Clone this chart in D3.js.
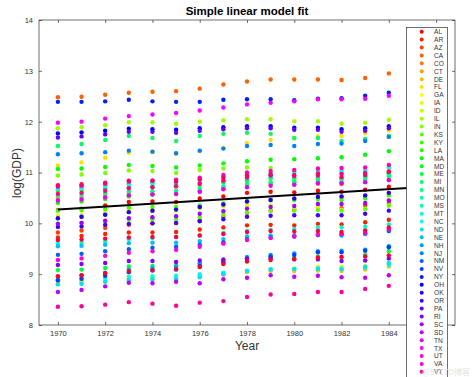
<!DOCTYPE html>
<html><head><meta charset="utf-8">
<script src="https://cdn.jsdelivr.net/npm/d3@7"></script>
<style>body{margin:0;background:#fff}svg{display:block}</style>
</head><body>
<svg id="c" width="474" height="377"></svg>
<script>
const years = [1970,1971,1972,1973,1974,1975,1976,1977,1978,1979,1980,1981,1982,1983,1984];
const xTicks = [1970,1972,1974,1976,1978,1980,1982,1984,1986];
const xTickLabels = ["1970","1972","1974","1976","1978","1980","1982","1984",""]; // 1986 sits under the legend
const yTicks = [8,9,10,11,12,13,14];
const states = ["AL","AR","AZ","CA","CO","CT","DE","FL","GA","IA","ID","IL","IN","KS","KY","LA","MA","MD","ME","MI","MN","MO","MS","MT","NC","ND","NE","NH","NJ","NM","NV","NY","OH","OK","OR","PA","RI","SC","SD","TN","TX","UT","VA","VT","WA","WI","WV","WY"];
const AL=[10.26,10.29,10.35,10.42,10.43,10.42,10.49,10.53,10.60,10.62,10.61,10.64,10.62,10.66,10.72];
const AR=[9.72,9.75,9.79,9.82,9.82,9.83,9.88,9.92,9.96,9.97,9.96,9.99,9.98,10.02,10.07];
const AZ=[9.82,9.86,9.91,9.97,10.00,10.00,10.06,10.13,10.21,10.25,10.27,10.31,10.30,10.35,10.40];
const CA=[12.48,12.49,12.53,12.57,12.59,12.60,12.65,12.73,12.79,12.83,12.83,12.83,12.82,12.86,12.95];
const CO=[10.10,10.13,10.18,10.23,10.25,10.27,10.32,10.37,10.43,10.46,10.48,10.52,10.52,10.54,10.58];
const CT=[10.50,10.51,10.54,10.58,10.58,10.57,10.62,10.68,10.74,10.77,10.77,10.78,10.77,10.81,10.88];
const DE=[8.85,8.86,8.88,8.91,8.92,8.91,8.95,8.99,9.04,9.06,9.06,9.07,9.06,9.09,9.15];
const FL=[11.14,11.20,11.29,11.39,11.40,11.37,11.42,11.49,11.58,11.64,11.67,11.71,11.72,11.77,11.83];
const GA=[10.70,10.72,10.76,10.80,10.80,10.81,10.86,10.91,10.95,10.97,10.99,11.02,11.02,11.04,11.08];
const IA=[10.15,10.17,10.22,10.27,10.27,10.25,10.29,10.33,10.35,10.35,10.31,10.31,10.27,10.29,10.35];
const ID=[8.80,8.82,8.86,8.90,8.92,8.93,8.97,9.02,9.06,9.09,9.11,9.14,9.14,9.16,9.20];
const IL=[11.87,11.89,11.93,11.99,11.99,11.96,12.00,12.03,12.05,12.05,12.01,12.01,11.96,11.98,12.04];
const IN=[10.94,10.96,10.99,11.04,11.03,10.99,11.05,11.08,11.10,11.09,11.03,11.04,10.99,11.03,11.10];
const KS=[10.00,10.01,10.04,10.07,10.08,10.08,10.12,10.17,10.22,10.25,10.25,10.26,10.25,10.28,10.35];
const KY=[10.25,10.26,10.28,10.31,10.32,10.32,10.35,10.39,10.44,10.46,10.46,10.47,10.46,10.49,10.55];
const LA=[10.40,10.43,10.48,10.53,10.56,10.58,10.64,10.70,10.76,10.80,10.82,10.86,10.87,10.89,10.95];
const MA=[11.07,11.08,11.11,11.15,11.13,11.10,11.14,11.18,11.22,11.25,11.26,11.28,11.30,11.35,11.42];
const MD=[10.65,10.66,10.69,10.71,10.72,10.73,10.76,10.81,10.85,10.88,10.88,10.89,10.88,10.92,10.98];
const ME=[9.08,9.09,9.12,9.15,9.16,9.17,9.21,9.26,9.31,9.34,9.34,9.35,9.34,9.38,9.45];
const MI=[11.52,11.56,11.64,11.72,11.68,11.62,11.72,11.76,11.78,11.76,11.68,11.68,11.62,11.66,11.72];
const MN=[10.55,10.56,10.59,10.62,10.63,10.64,10.68,10.73,10.78,10.81,10.81,10.82,10.81,10.85,10.92];
const MO=[10.72,10.73,10.75,10.77,10.78,10.77,10.81,10.84,10.88,10.90,10.89,10.90,10.88,10.92,10.98];
const MS=[9.60,9.62,9.65,9.69,9.71,9.73,9.76,9.81,9.85,9.87,9.89,9.92,9.92,9.94,9.98];
const MT=[8.90,8.91,8.93,8.95,8.96,8.97,9.00,9.03,9.07,9.10,9.10,9.10,9.10,9.13,9.18];
const NC=[10.68,10.70,10.74,10.78,10.80,10.82,10.86,10.91,10.95,10.98,11.00,11.03,11.04,11.05,11.10];
const ND=[8.80,8.81,8.85,8.88,8.89,8.90,8.94,9.00,9.06,9.09,9.10,9.11,9.10,9.14,9.22];
const NE=[9.55,9.56,9.58,9.61,9.62,9.62,9.65,9.69,9.74,9.76,9.76,9.77,9.76,9.79,9.85];
const NH=[8.95,8.98,9.03,9.09,9.12,9.15,9.21,9.27,9.34,9.38,9.41,9.45,9.46,9.48,9.55];
const NJ=[11.36,11.38,11.40,11.43,11.41,11.38,11.43,11.47,11.52,11.54,11.52,11.56,11.57,11.62,11.70];
const NM=[9.38,9.40,9.45,9.49,9.52,9.54,9.58,9.63,9.69,9.72,9.74,9.77,9.78,9.80,9.85];
const NV=[8.88,8.91,8.97,9.04,9.07,9.09,9.16,9.23,9.30,9.35,9.38,9.43,9.43,9.46,9.53];
const NY=[12.39,12.39,12.40,12.43,12.40,12.39,12.39,12.43,12.44,12.44,12.42,12.45,12.46,12.51,12.57];
const OH=[11.77,11.79,11.82,11.86,11.85,11.84,11.87,11.89,11.91,11.91,11.88,11.88,11.85,11.87,11.91];
const OK=[10.10,10.13,10.17,10.22,10.25,10.27,10.32,10.37,10.43,10.46,10.49,10.52,10.53,10.55,10.60];
const OR=[9.93,9.94,9.97,9.99,10.00,10.01,10.04,10.08,10.13,10.15,10.16,10.16,10.16,10.19,10.25];
const PA=[11.69,11.71,11.75,11.80,11.80,11.78,11.82,11.85,11.87,11.87,11.84,11.84,11.80,11.82,11.87];
const RI=[9.18,9.20,9.22,9.26,9.26,9.24,9.27,9.29,9.31,9.31,9.29,9.29,9.26,9.27,9.31];
const SC=[9.99,10.01,10.05,10.10,10.12,10.14,10.19,10.24,10.29,10.32,10.34,10.38,10.38,10.40,10.45];
const SD=[8.65,8.69,8.76,8.83,8.82,8.85,8.82,8.90,8.93,8.98,8.95,8.97,8.94,8.93,8.98];
const TN=[10.45,10.47,10.51,10.55,10.57,10.58,10.62,10.67,10.71,10.74,10.76,10.79,10.79,10.81,10.85];
const TX=[11.98,12.00,12.06,12.11,12.14,12.17,12.22,12.28,12.34,12.37,12.40,12.44,12.44,12.45,12.51];
const UT=[9.28,9.31,9.36,9.42,9.45,9.48,9.54,9.60,9.67,9.71,9.74,9.78,9.79,9.81,9.88];
const VA=[10.72,10.74,10.78,10.82,10.84,10.86,10.90,10.95,11.00,11.03,11.05,11.08,11.09,11.10,11.15];
const VT=[8.36,8.37,8.40,8.45,8.42,8.38,8.44,8.47,8.55,8.60,8.61,8.65,8.65,8.71,8.77];
const WA=[10.58,10.60,10.64,10.69,10.71,10.73,10.78,10.84,10.90,10.94,10.95,10.98,10.97,10.99,11.02];
const WI=[10.75,10.77,10.80,10.84,10.84,10.82,10.86,10.90,10.94,10.96,10.93,10.94,10.91,10.95,11.01];
const WV=[9.67,9.68,9.70,9.72,9.73,9.73,9.76,9.79,9.83,9.85,9.84,9.85,9.83,9.86,9.92];
const WY=[8.96,8.98,9.02,9.06,9.08,9.10,9.14,9.20,9.25,9.28,9.30,9.33,9.34,9.35,9.37];
const series = [AL,AR,AZ,CA,CO,CT,DE,FL,GA,IA,ID,IL,IN,KS,KY,LA,MA,MD,ME,MI,MN,MO,MS,MT,NC,ND,NE,NH,NJ,NM,NV,NY,OH,OK,OR,PA,RI,SC,SD,TN,TX,UT,VA,VT,WA,WI,WV,WY];
// fitted line end points
const fitYears = [1970, 1986];
const fitValues = [10.27, 10.73];

(function () {
const svg = d3.select("#c");
const font = "'Liberation Sans', Arial, sans-serif";
const axCol = "#333333";
const x = d3.scaleLinear().domain([1969.2, 1986.8]).range([39, 455]);
const y = d3.scaleLinear().domain([8, 14]).range([325, 20]);
const color = i => d3.hsl(360 * i / states.length, 1, 0.5).toString();

// points
const pts = svg.append("g");
series.forEach((vals, i) => {
  pts.selectAll(null).data(vals).enter().append("circle")
    .attr("cx", (d, j) => x(years[j]))
    .attr("cy", d => y(d))
    .attr("r", 2.2)
    .attr("fill", color(i));
});

// fitted line
svg.append("path")
  .attr("d", d3.line().x(d => x(d)).y((d, i) => y(fitValues[i]))(fitYears))
  .attr("stroke", "#000").attr("stroke-width", 2).attr("fill", "none");

// axes box
svg.append("rect").attr("x", 39).attr("y", 20).attr("width", 416).attr("height", 305)
  .attr("fill", "none").attr("stroke", axCol).attr("stroke-width", 0.7);

const gB = svg.append("g").attr("transform", "translate(0,325)")
  .call(d3.axisBottom(x).tickValues(xTicks).tickFormat((d, i) => xTickLabels[i]).tickSizeInner(-3).tickSizeOuter(0).tickPadding(6));
const gT = svg.append("g").attr("transform", "translate(0,20)")
  .call(d3.axisTop(x).tickValues(xTicks).tickFormat("").tickSizeInner(-3).tickSizeOuter(0));
const gL = svg.append("g").attr("transform", "translate(39,0)")
  .call(d3.axisLeft(y).tickValues(yTicks).tickFormat(d3.format("d")).tickSizeInner(-3).tickSizeOuter(0).tickPadding(6));
const gR = svg.append("g").attr("transform", "translate(455,0)")
  .call(d3.axisRight(y).tickValues(yTicks).tickFormat("").tickSizeInner(-3).tickSizeOuter(0));
[gB, gT, gL, gR].forEach(g => {
  g.select(".domain").remove();
  g.selectAll("line").attr("stroke", axCol).attr("stroke-width", 0.7);
  g.selectAll("text").attr("fill", axCol).attr("font-family", font).attr("font-size", 7.5);
});

// labels
svg.append("text").attr("x", 247).attr("y", 15).attr("text-anchor", "middle")
  .attr("font-family", font).attr("font-weight", "bold").attr("font-size", 11.5).attr("fill", "#000")
  .text("Simple linear model fit");
svg.append("text").attr("x", 247).attr("y", 350).attr("text-anchor", "middle")
  .attr("font-family", font).attr("font-size", 12).attr("fill", axCol).text("Year");
svg.append("text").attr("transform", "translate(21,173) rotate(-90)").attr("text-anchor", "middle")
  .attr("font-family", font).attr("font-size", 12).attr("fill", axCol).text("log(GDP)");

// legend (box runs past the bottom of the figure, as in the original)
const leg = svg.append("g");
leg.append("rect").attr("x", 406.5).attr("y", 27.5).attr("width", 41).attr("height", 400)
  .attr("fill", "#fff").attr("stroke", axCol).attr("stroke-width", 0.7);
states.forEach((s, i) => {
  const yy = 31.7 + i * 7.91;
  if (yy > 374) return; // rows below the figure edge are not visible
  leg.append("circle").attr("cx", 421.7).attr("cy", yy).attr("r", 2.0).attr("fill", color(i));
  leg.append("text").attr("x", 434).attr("y", yy + 2.4).attr("font-family", font)
    .attr("font-size", 6.6).attr("fill", axCol).text(s);
});

// watermark
svg.append("text").attr("x", 470).attr("y", 375).attr("text-anchor", "end")
  .attr("font-family", "'Noto Sans CJK SC', sans-serif").attr("font-size", 8).attr("fill", "#e4e4e4")
  .text("@51CTO博客");
})();
</script>
</body></html>
